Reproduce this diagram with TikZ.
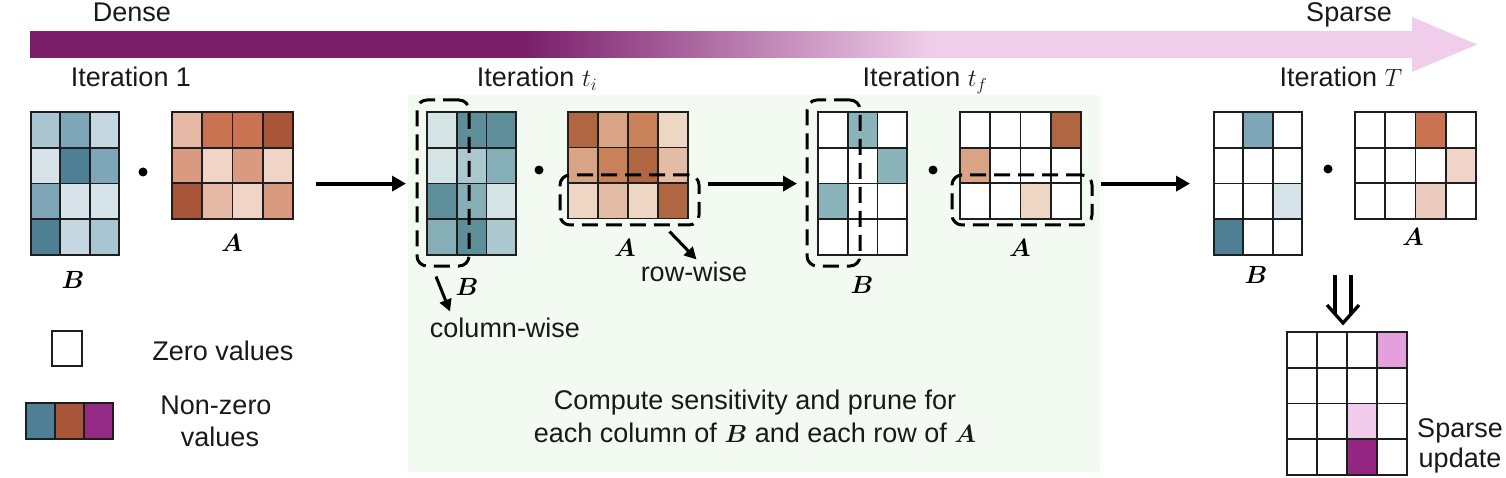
\documentclass[tikz,border=0pt]{standalone}
\usepackage{amsmath}
\usepackage{bm}
\usepackage{fontspec}
\setmainfont{Liberation Sans}
\usetikzlibrary{arrows.meta,fit,calc}

\definecolor{barD}{HTML}{7B1F6D}
\definecolor{barL}{HTML}{F0CDEA}
\definecolor{greenbg}{HTML}{F3FAF1}
\definecolor{bD}{HTML}{4F7F95}
\definecolor{bM}{HTML}{7FA6B8}
\definecolor{bL}{HTML}{A9C5D1}
\definecolor{bLL}{HTML}{C5D8E1}
\definecolor{bVL}{HTML}{D6E3E9}
\definecolor{oD}{HTML}{A8553A}
\definecolor{oM}{HTML}{C97352}
\definecolor{oML}{HTML}{DA9A82}
\definecolor{oL}{HTML}{E6B9A7}
\definecolor{oVL}{HTML}{F0D4C8}
\definecolor{tD}{HTML}{5E8E99}
\definecolor{tM}{HTML}{85AEB7}
\definecolor{tL}{HTML}{AAC8CD}
\definecolor{tVL}{HTML}{D4E4E4}
\definecolor{tB}{HTML}{8AB4BA}
\definecolor{pD}{HTML}{AF6641}
\definecolor{pM}{HTML}{C98159}
\definecolor{pML}{HTML}{D9A385}
\definecolor{pL}{HTML}{E3BCA5}
\definecolor{pVL}{HTML}{EED6C4}
\definecolor{oVL2}{HTML}{EBCBBD}
\definecolor{uD}{HTML}{952782}
\definecolor{uM}{HTML}{E3A0DC}
\definecolor{uL}{HTML}{F1CBEB}
\definecolor{lgB}{HTML}{4F7F95}
\definecolor{lgO}{HTML}{A8553A}
\definecolor{lgP}{HTML}{932A84}
\definecolor{gridc}{HTML}{1E1E1E}

\tikzset{
  gl/.style={line width=1.8pt, draw=gridc, line cap=rect},
  txt/.style={font=\fontsize{27}{32}\selectfont, inner sep=0pt, text=black!90},
  mlab/.style={font=\fontsize{23.5}{28}\selectfont, inner sep=0pt},
  arr/.style={line width=4pt, -{Triangle[length=14pt,width=15pt]}},
  arrsm/.style={line width=3pt, -{Triangle[length=12pt,width=12pt]}},
  dbox/.style={draw, line width=3pt, dash pattern=on 16pt off 8pt, rounded corners=10pt, inner sep=0pt},
  dotc/.style={circle, fill=black, inner sep=0pt, minimum size=9pt},
  mbox/.style={inner sep=0pt, outer sep=0pt, anchor=north west},
}

\newcommand\mgrid[8]{%
  \node[mbox, minimum width={#4*#6pt}, minimum height={#5*#7pt}] (#1) at (#2,#3) {};
  \begin{scope}[shift={(#2,#3)}]
    \fill[white] (0,0) rectangle ({#4*#6},{#5*#7});
    \foreach \cc/\rr/\kk in {#8} {\fill[\kk] ({\cc*#6},{\rr*#7}) rectangle ++(#6,#7);}
    \foreach \ii in {0,...,#4} {\draw[gl] ({\ii*#6},0) -- ({\ii*#6},{#5*#7});}
    \foreach \jj in {0,...,#5} {\draw[gl] (0,{\jj*#7}) -- ({#4*#6},{\jj*#7});}
  \end{scope}}

\begin{document}
\begin{tikzpicture}[x=1pt,y=-1pt]
\useasboundingbox (0,0) rectangle (1506,478);

% top gradient arrow
\fill[barD] (30,31) rectangle (527,58);
\foreach \ii in {0,...,100} {
  \pgfmathsetmacro\xs{525+4.05*\ii}
  \fill[barL!\ii!barD] (\xs,31) rectangle ({\xs+4.6},58);
}
\fill[barL] (930,31) rectangle (1413,58);
\fill[barL] (1412,17) -- (1477,44.5) -- (1412,72) -- cycle;
\node[txt, anchor=base] (dense) at (132,22) {Dense};
\node[txt, anchor=base] (sparse) at (1349,22) {Sparse};

% green background
\fill[greenbg] (408,95) rectangle (1100,472);

% iteration labels
\node[txt, anchor=base] (it1) at (131,87) {Iteration 1};
\node[txt, anchor=base] (it2) at (537,87) {Iteration $t_i$};
\node[txt, anchor=base] (it3) at (925,87) {Iteration $t_f$};
\node[txt, anchor=base] (it4) at (1341,87) {Iteration $T$};

% Iteration 1
\mgrid{B1}{31}{112}{3}{4}{29.3}{35.8}{0/0/bL,1/0/bM,2/0/bLL,0/1/bVL,1/1/bD,2/1/bM,0/2/bM,1/2/bVL,2/2/bVL,0/3/bD,1/3/bLL,2/3/bL}
\mgrid{A1}{172}{112}{4}{3}{30.25}{35.7}{0/0/oL,1/0/oM,2/0/oM,3/0/oD,0/1/oML,1/1/oVL,2/1/oML,3/1/oVL,0/2/oD,1/2/oL,2/2/oVL,3/2/oML}
\node[dotc] (d1) at (143,172) {};
\node[mlab] (Bl1) at (73,280) {$\bm{B}$};
\node[mlab] (Al1) at (232,243) {$\bm{A}$};

% Iteration t_i
\mgrid{B2}{427}{112}{3}{4}{29.7}{35.8}{0/0/tVL,1/0/tD,2/0/tD,0/1/tVL,1/1/tL,2/1/tM,0/2/tD,1/2/tM,2/2/tVL,0/3/tM,1/3/tD,2/3/tL}
\mgrid{A2}{568}{112}{4}{3}{30}{35.5}{0/0/pD,1/0/pML,2/0/pM,3/0/pVL,0/1/pML,1/1/pM,2/1/pD,3/1/pL,0/2/pVL,1/2/pL,2/2/pVL,3/2/pD}
\node[dotc] (d2) at (539,170) {};
\node[mlab] (Bl2) at (467,287) {$\bm{B}$};
\node[mlab] (Al2) at (625,248) {$\bm{A}$};
\node[dbox, fit={(417,100) (469,266)}] (colbox) {};
\node[dbox, fit={(560,175) (699,225)}] (rowbox) {};
\node[txt, anchor=base] (cw) at (505,337) {column-wise};
\node[txt, anchor=base] (rw) at (694,281) {row-wise};
\draw[arrsm] ([shift={(-7,9)}]colbox.south) -- ([shift={(7,44)}]colbox.south);
\draw[arrsm] ([shift={(-31,5)}]rowbox.south east) -- ([shift={(-4,33)}]rowbox.south east);

% Iteration t_f
\mgrid{B3}{818}{112}{3}{4}{29.7}{35.8}{1/0/tB,2/1/tB,0/2/tB}
\mgrid{A3}{960}{112}{4}{3}{30.25}{35.7}{3/0/pD,0/1/pML,2/2/pVL}
\node[dotc] (d3) at (933,170) {};
\node[mlab] (Bl3) at (862,285) {$\bm{B}$};
\node[mlab] (Al3) at (1020,248) {$\bm{A}$};
\node[dbox, fit={(807,100) (860,266)}] (colbox3) {};
\node[dbox, fit={(952,175) (1092,225)}] (rowbox3) {};

% Iteration T
\mgrid{B4}{1214}{112}{3}{4}{29.3}{35.8}{1/0/bM,2/2/bVL,0/3/bD}
\mgrid{A4}{1355}{112}{4}{3}{30.25}{35.7}{2/0/oM,3/1/oVL,2/2/oVL2}
\node[dotc] (d4) at (1328,169) {};
\node[mlab] (Bl4) at (1256,275) {$\bm{B}$};
\node[mlab] (Al4) at (1413,237) {$\bm{A}$};

% main arrows
\draw[arr, shorten <=23pt, shorten >=21pt] (A1.east |- B2.west) -- (B2.west);
\draw[arr, shorten <=20pt, shorten >=21pt] (A2.east |- B3.west) -- (B3.west);
\draw[arr, shorten <=20pt, shorten >=24pt] (A3.east |- B4.west) -- (B4.west);

% sparse update
\mgrid{S}{1287}{332}{4}{4}{30}{35.75}{3/0/uM,2/2/uL,2/3/uD}
\coordinate (dl) at (1335,275);
\coordinate (dr) at (1351,275);
\coordinate (dtip) at (1343,323);
\draw[line width=3.3pt] (dl) -- ++(0,39);
\draw[line width=3.3pt] (dr) -- ++(0,39);
\draw[line width=3.3pt, line join=miter] ($(dtip)+(-16,-18)$) -- (dtip) -- ($(dtip)+(16,-18)$);
\node[txt, anchor=base] (su1) at (1460,437) {Sparse};
\node[txt, anchor=base] (su2) at (1460,467) {update};

% legend
\node[draw=gridc, line width=1.8pt, fill=white, minimum width=30pt, minimum height=35pt, inner sep=0pt] (zbox) at (67,348.5) {};
\mgrid{leg}{26}{403}{3}{1}{29}{36}{0/0/lgB,1/0/lgO,2/0/lgP}
\node[txt, anchor=base] (zv) at (223,360) {Zero values};
\node[txt, anchor=base] (nz1) at (216,414) {Non-zero};
\node[txt, anchor=base] (nz2) at (220,446) {values};

% bottom text
\node[txt, anchor=base] (bt1) at (755,409) {Compute sensitivity and prune for};
\node[txt, anchor=base] (bt2) at (755,442) {each column of $\bm{B}$ and each row of $\bm{A}$};
\end{tikzpicture}
\end{document}
